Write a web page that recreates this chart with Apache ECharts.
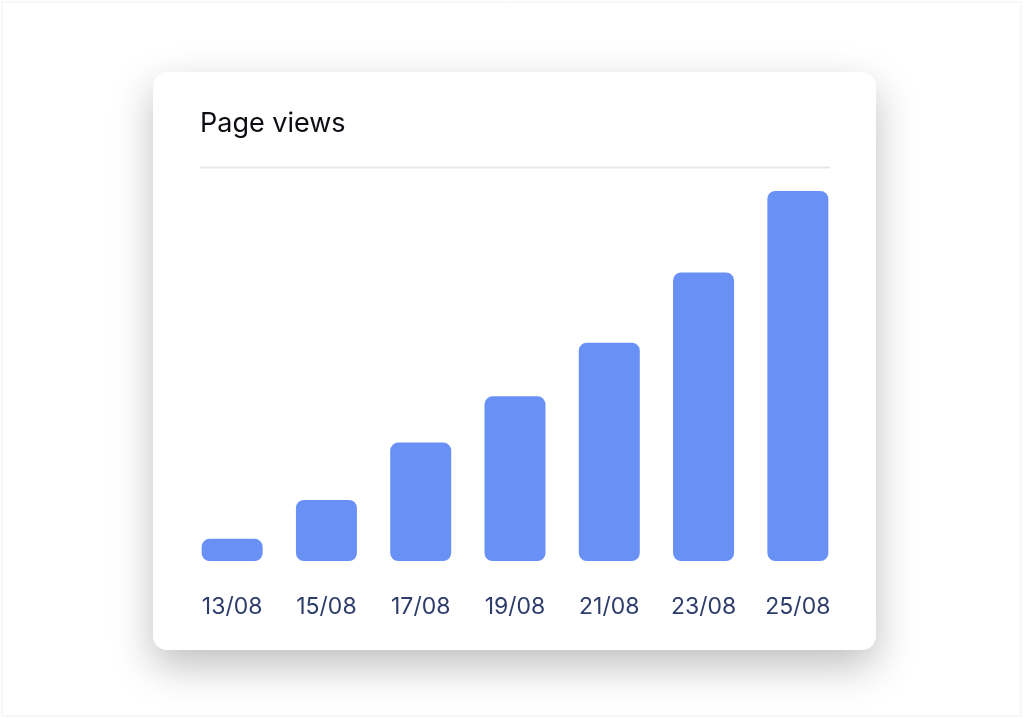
<!DOCTYPE html>
<html>
<head>
<meta charset="utf-8">
<script src="https://cdn.jsdelivr.net/npm/echarts@6/dist/echarts.min.js"></script>
<style>
html,body{margin:0;padding:0;background:#fff;}
#chart{width:1024px;height:719px;}
</style>
</head>
<body>
<div id="chart"></div>
<script>
const categories = ['13/08','15/08','17/08','19/08','21/08','23/08','25/08'];
const pageViews = [12, 33, 64, 89, 118, 156, 200];
const titleText = 'Page views';

const chart = echarts.init(document.getElementById('chart'), null, {renderer:'canvas'});
chart.setOption({
  backgroundColor: '#ffffff',
  animation: false,
  title: {
    text: titleText,
    left: 200,
    top: 110,
    padding: 0,
    textStyle: {fontFamily: 'Inter', fontSize: 27, fontWeight: 400, color: '#0b0d12'}
  },
  graphic: [
    {type:'rect', z:-10, shape:{x:2, y:2, width:1019, height:714}, style:{fill:'#fff', stroke:'#f1f1f1', lineWidth:1}},
    {type:'rect', z:-5, shape:{x:153, y:72, width:723, height:578, r:14},
     style:{fill:'#ffffff', shadowBlur:40, shadowOffsetY:16, shadowColor:'rgba(0,0,0,0.25)'}},
    {type:'line', z:-4, shape:{x1:200, y1:167.5, x2:830, y2:167.5}, style:{stroke:'#e6e7eb', lineWidth:2}}
  ],
  grid: {left: 185, right: 179, top: 191, bottom: 158, containLabel: false},
  xAxis: {
    type: 'category',
    data: categories,
    axisLine: {show:false},
    axisTick: {show:false},
    axisLabel: {fontFamily:'Inter', fontSize: 23, color:'#2d3c6a', margin: 35}
  },
  yAxis: {
    type: 'value', min: 0, max: 200,
    show: false,
    splitLine: {show:false}
  },
  series: [{
    type: 'bar',
    data: pageViews,
    barWidth: 61,
    itemStyle: {color:'#6990f5', borderRadius: 8}
  }]
});
</script>
</body>
</html>
